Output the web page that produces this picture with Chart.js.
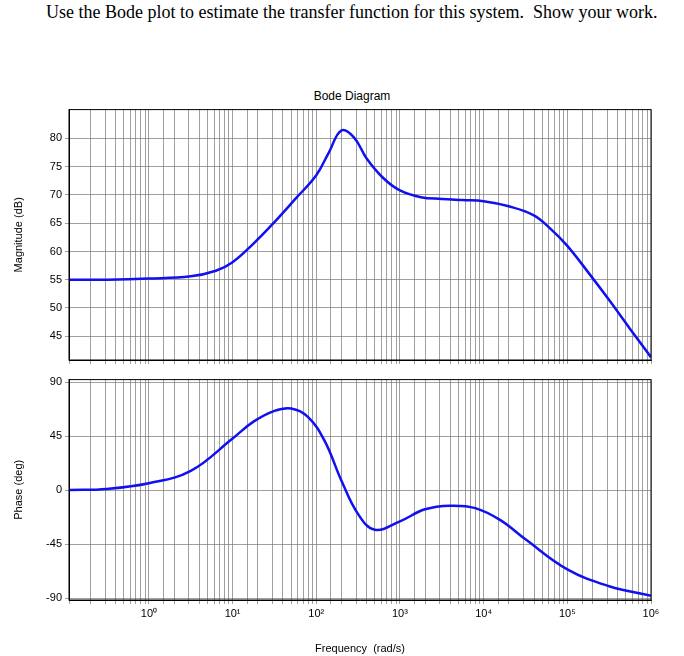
<!DOCTYPE html>
<html><head><meta charset="utf-8">
<script src="https://cdn.jsdelivr.net/npm/chart.js@4/dist/chart.umd.min.js"></script>
<style>
body{margin:0;background:#fff;width:684px;height:656px;position:relative;overflow:hidden}
#q{position:absolute;left:46px;top:2px;font:18px "Liberation Serif",serif;color:#000}
#t{position:absolute;left:0;width:704px;top:89px;text-align:center;font:12px "Liberation Sans",Arial;color:#000}
canvas{position:absolute;left:0}
</style></head><body>
<div id="q">Use the Bode plot to estimate the transfer function for this system.&nbsp; Show your work.</div>
<div id="t">Bode Diagram</div>
<div style="position:absolute;left:0;top:100px;width:684px;height:270px"><canvas id="mag"></canvas></div>
<div style="position:absolute;left:0;top:370px;width:684px;height:286px"><canvas id="ph"></canvas></div>
<script>
// log10(frequency) points
const magW = [-0.95, -0.5, 0, 0.5, 0.8, 1, 1.25, 1.5, 1.75, 2, 2.15, 2.3, 2.45, 2.6, 2.8, 3, 3.25, 3.5, 3.75, 4, 4.3, 4.6, 4.8, 5, 5.25, 5.5, 5.75, 6];
const magDb = [55, 55, 55.2, 55.6, 56.6, 58.1, 61.4, 65.2, 69.3, 73.5, 77.5, 81.4, 80.2, 76.5, 73, 70.8, 69.6, 69.3, 69.1, 68.9, 68, 66.4, 64, 61, 56.3, 51.4, 46.3, 41.3];
const phW = [-0.95, -0.5, 0, 0.5, 1, 1.25, 1.5, 1.7, 1.9, 2.1, 2.3, 2.5, 2.7, 3, 3.3, 3.6, 3.9, 4.2, 4.5, 5, 5.5, 6];
const phDeg = [0, 1, 5.7, 16, 43, 57, 66, 68, 61, 41, 8, -20, -33, -26, -16, -13, -15, -25, -41, -66, -80, -88];
const magTicks = [45, 50, 55, 60, 65, 70, 75, 80];
const phTicks = [-90, -45, 0, 45, 90];
const sup = {"0":"⁰","1":"¹","2":"²","3":"³","4":"⁴","5":"⁵","6":"⁶"};

const pts = (w, v) => w.map((x, i) => ({x: Math.pow(10, x), y: v[i]}));
const gridStyle = {color: "#777", lineWidth: 0.7, tickLength: 4, drawTicks: true};
const font = {family: "Liberation Sans", size: 11};

function xAxis(showLabels, height) {
  return {
    type: "logarithmic", min: 0.111, max: 1e6,
    grid: gridStyle, border: {color: "#000", width: 1},
    ticks: {display: showLabels, color: "#000", font: font, maxRotation: 0, autoSkip: false,
      callback: v => { const e = Math.log10(v); return Math.abs(e - Math.round(e)) < 1e-6 ? "10" + sup[Math.round(e)] : ""; }},
    title: {display: showLabels, text: "Frequency  (rad/s)", color: "#000", font: font, padding: {top: 0, bottom: 0}},
    afterFit: s => { s.height = height; }
  };
}
function yAxis(min, max, ticks, title) {
  return {
    min: min, max: max,
    grid: gridStyle, border: {color: "#000"},
    afterBuildTicks: s => { s.ticks = ticks.map(v => ({value: v})); },
    ticks: {color: "#000", font: font},
    title: {display: true, text: title, color: "#000", font: font},
    afterFit: s => { s.width = 61; }
  };
}
function make(id, data, yscale, xscale, padTop) {
  new Chart(document.getElementById(id), {
    type: "scatter",
    data: {datasets: [{data: data, showLine: true, borderColor: "#1010f0", borderWidth: 2.5, pointRadius: 0, tension: 0.4}]},
    options: {
      responsive: true, maintainAspectRatio: false, animation: false,
      layout: {padding: {top: padTop, right: 33, left: 8, bottom: 0}},
      plugins: {legend: {display: false}, tooltip: {enabled: false}},
      scales: {x: xscale, y: yscale}
    },
    plugins: [{id: "box", afterDraw: c => { const a = c.chartArea, g = c.ctx; g.save(); g.strokeStyle = "#000"; g.lineWidth = 1; g.strokeRect(a.left, a.top, a.right - a.left, a.bottom - a.top); g.restore(); }}]
  });
}
make("mag", pts(magW, magDb), yAxis(40.8, 85.1, magTicks, "Magnitude (dB)"), xAxis(false, 10), 9);
make("ph", pts(phW, phDeg), yAxis(-91.5, 92, phTicks, "Phase (deg)"), xAxis(true, 56), 8);
</script>
</body></html>
